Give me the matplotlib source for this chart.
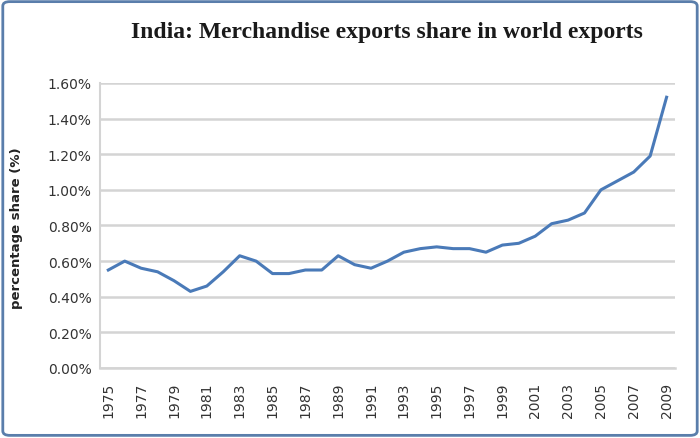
import matplotlib.pyplot as plt
from matplotlib.patches import FancyBboxPatch
from matplotlib.ticker import FuncFormatter

# data
years = list(range(1975, 2010))
share = [0.55, 0.60, 0.56, 0.54, 0.49, 0.43, 0.46, 0.54, 0.63, 0.60,
         0.53, 0.53, 0.55, 0.55, 0.63, 0.58, 0.56, 0.60, 0.65, 0.67,
         0.68, 0.67, 0.67, 0.65, 0.69, 0.70, 0.74, 0.81, 0.83, 0.87,
         1.00, 1.05, 1.10, 1.19, 1.52]
title = 'India: Merchandise exports share in world exports'
ylabel = 'percentage share (%)'

fig = plt.figure(figsize=(7, 4.39), dpi=100)
fig.patch.set_facecolor('white')
# outer chart border
fig.patches.append(FancyBboxPatch((0.004, 0.006), 0.992, 0.988,
                                  boxstyle='round,pad=0,rounding_size=0.01',
                                  transform=fig.transFigure, facecolor='none',
                                  edgecolor='#5a7eab', linewidth=2))

ax = fig.add_axes([0.143, 0.1595, 0.821, 0.6492])
x = list(range(len(years)))
ax.plot(x, share, color='#4a7ab8', linewidth=2.2, solid_joinstyle='round')

ax.set_ylim(0, 1.6)
ax.set_yticks([i * 0.2 for i in range(9)])
ax.yaxis.set_major_formatter(FuncFormatter(lambda v, p: f'{v:.2f}%'))
ax.set_xlim(-0.5, len(years) - 0.5)
ax.set_xticks(x[::2])
ax.set_xticklabels([str(y) for y in years[::2]], rotation=90)

ax.grid(axis='y', color='#d4d4d4', linewidth=1.8)
ax.set_axisbelow(True)
for side in ('top', 'right'):
    ax.spines[side].set_visible(False)
ax.spines['left'].set_color('#d4d4d4')
ax.spines['bottom'].set_color('#d4d4d4')
ax.spines['left'].set_linewidth(1.5)
ax.spines['bottom'].set_linewidth(1.8)
ax.tick_params(axis='both', length=0, labelsize=10, colors='#333333', pad=6)
ax.tick_params(axis='x', pad=10)

fig.text(0.553, 0.925, title, ha='center', va='center', fontsize=17,
         fontweight='bold', family='Liberation Serif', color='#1a1a1a')
fig.text(0.024, 0.48, ylabel, rotation=90, ha='center', va='center',
         fontsize=9.5, fontweight='bold', color='#222222')

fig.savefig('out.png', dpi=100)
